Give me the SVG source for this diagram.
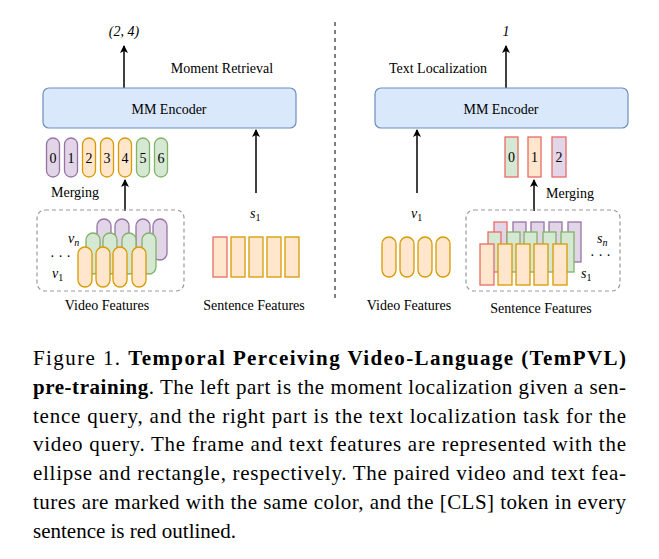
<svg xmlns="http://www.w3.org/2000/svg" width="659" height="559" viewBox="0 0 659 559">
<style>
text{font-family:"Liberation Serif","DejaVu Serif",serif;fill:#000}
.l{font-size:14px}
.c{font-size:21px}
.enc{fill:#dae8fc;stroke:#6c8ebf;stroke-width:1.2}
.p{fill:#e1d5e7;stroke:#9673a6;stroke-width:1.3}
.o{fill:#ffe6cc;stroke:#d79b00;stroke-width:1.3}
.g{fill:#d5e8d4;stroke:#82b366;stroke-width:1.3}
.r{stroke:#ea6b66}
.dash{fill:none;stroke:#999;stroke-dasharray:4 3;stroke-width:1.2}
.ar{stroke:#000;stroke-width:1.5;fill:none;marker-end:url(#ah)}
.i{font-style:italic}
</style>
<defs><marker id="ah" markerWidth="10" markerHeight="10" refX="7" refY="4" orient="auto" markerUnits="userSpaceOnUse"><path d="M0,0 L8,4 L0,8 L2,4 Z" fill="#000"/></marker></defs>
<rect width="659" height="559" fill="#fff"/>
<g id="connectors">
<line class="ar" x1="124" y1="88" x2="124" y2="46"/>
<line class="ar" x1="125" y1="211" x2="125" y2="180"/>
<line class="ar" x1="256" y1="193" x2="256" y2="130"/>
<line class="ar" x1="506" y1="88" x2="506" y2="46"/>
<line class="ar" x1="417" y1="193" x2="417" y2="130"/>
<line class="ar" x1="534" y1="211" x2="534" y2="180"/>
<line x1="335" y1="22" x2="335" y2="300" stroke="#000" stroke-dasharray="4 4" stroke-width="1"/>
</g>
<g id="left-encoder"><rect class="enc" x="43" y="88" width="253" height="40" rx="6"/><text class="l" x="169" y="114" text-anchor="middle">MM Encoder</text></g>
<text class="l i" x="124" y="36" text-anchor="middle">(2, 4)</text>
<text class="l" x="222" y="73" text-anchor="middle">Moment Retrieval</text>
<g id="left-tokens" class="l">
<rect class="p" x="46.5" y="138" width="13" height="39" rx="6.5"/><text x="53" y="163" text-anchor="middle">0</text>
<rect class="p" x="64.5" y="138" width="13" height="39" rx="6.5"/><text x="71" y="163" text-anchor="middle">1</text>
<rect class="o" x="82.5" y="138" width="13" height="39" rx="6.5"/><text x="89" y="163" text-anchor="middle">2</text>
<rect class="o" x="100.5" y="138" width="13" height="39" rx="6.5"/><text x="107" y="163" text-anchor="middle">3</text>
<rect class="o" x="118.5" y="138" width="13" height="39" rx="6.5"/><text x="125" y="163" text-anchor="middle">4</text>
<rect class="g" x="136.5" y="138" width="13" height="39" rx="6.5"/><text x="143" y="163" text-anchor="middle">5</text>
<rect class="g" x="154.5" y="138" width="13" height="39" rx="6.5"/><text x="161" y="163" text-anchor="middle">6</text>
</g>
<text class="l" x="51" y="197">Merging</text>
<g id="left-video">
<rect class="dash" x="37" y="210" width="147" height="81" rx="8"/>
<rect class="p" x="97" y="219" width="14" height="41" rx="7"/><rect class="p" x="115" y="219" width="14" height="41" rx="7"/><rect class="p" x="136" y="219" width="14" height="41" rx="7"/><rect class="p" x="153" y="219" width="14" height="41" rx="7"/>
<rect class="g" x="86" y="233" width="14" height="41" rx="7"/><rect class="g" x="103" y="233" width="14" height="41" rx="7"/><rect class="g" x="122" y="233" width="14" height="41" rx="7"/><rect class="g" x="142" y="233" width="14" height="41" rx="7"/>
<rect class="o" x="78" y="247" width="14" height="40" rx="7"/><rect class="o" x="96" y="247" width="14" height="40" rx="7"/><rect class="o" x="113" y="247" width="14" height="40" rx="7"/><rect class="o" x="132" y="247" width="14" height="40" rx="7"/>
<text class="l i" x="68" y="243">v<tspan font-size="10" dy="3">n</tspan></text>
<text class="l" x="50" y="261">· · ·</text>
<text class="l i" x="52" y="278">v<tspan font-size="10" dy="3" font-style="normal">1</tspan></text>
<text class="l" x="107" y="310" text-anchor="middle">Video Features</text>
</g>
<g id="left-sentence">
<text class="l i" x="250" y="218">s<tspan font-size="10" dy="3" font-style="normal">1</tspan></text>
<rect class="o r" x="213" y="237" width="14" height="40"/><rect class="o" x="231" y="237" width="14" height="40"/><rect class="o" x="249" y="237" width="14" height="40"/><rect class="o" x="267" y="237" width="14" height="40"/><rect class="o" x="285" y="237" width="14" height="40"/>
<text class="l" x="254" y="310" text-anchor="middle">Sentence Features</text>
</g>
<g id="right-encoder"><rect class="enc" x="375" y="88" width="253" height="40" rx="6"/><text class="l" x="501" y="114" text-anchor="middle">MM Encoder</text></g>
<text class="l i" x="506" y="36" text-anchor="middle">1</text>
<text class="l" x="438" y="73" text-anchor="middle">Text Localization</text>
<g id="right-tokens" class="l">
<rect class="g r" x="505" y="137" width="13" height="40"/><text x="511.5" y="162" text-anchor="middle">0</text>
<rect class="o r" x="528" y="137" width="13" height="40"/><text x="534.5" y="162" text-anchor="middle">1</text>
<rect class="p r" x="552" y="137" width="14" height="40"/><text x="559" y="162" text-anchor="middle">2</text>
</g>
<text class="l" x="546" y="198">Merging</text>
<g id="right-video">
<text class="l i" x="411" y="218">v<tspan font-size="10" dy="3" font-style="normal">1</tspan></text>
<rect class="o" x="382" y="237" width="14" height="40" rx="7"/><rect class="o" x="400" y="237" width="14" height="40" rx="7"/><rect class="o" x="418" y="237" width="14" height="40" rx="7"/><rect class="o" x="436" y="237" width="14" height="40" rx="7"/>
<text class="l" x="409" y="310" text-anchor="middle">Video Features</text>
</g>
<g id="right-sentence">
<rect class="dash" x="466" y="210" width="154" height="81" rx="8"/>
<rect class="p r" x="494" y="222" width="13" height="40"/><rect class="p" x="513" y="222" width="13" height="40"/><rect class="p" x="531" y="222" width="13" height="40"/><rect class="p" x="549" y="222" width="13" height="40"/><rect class="p" x="568" y="222" width="13" height="40"/>
<rect class="g r" x="488" y="232" width="13" height="40"/><rect class="g" x="507" y="232" width="13" height="40"/><rect class="g" x="524" y="232" width="13" height="40"/><rect class="g" x="543" y="232" width="13" height="40"/><rect class="g" x="561" y="232" width="13" height="40"/>
<rect class="o r" x="480" y="244" width="14" height="41"/><rect class="o" x="498" y="244" width="14" height="41"/><rect class="o" x="516" y="244" width="14" height="41"/><rect class="o" x="534" y="244" width="14" height="41"/><rect class="o" x="553" y="244" width="14" height="41"/>
<text class="l i" x="597" y="243">s<tspan font-size="10" dy="3">n</tspan></text>
<text class="l" x="590" y="260">· · ·</text>
<text class="l i" x="581" y="278">s<tspan font-size="10" dy="3" font-style="normal">1</tspan></text>
<text class="l" x="541" y="313" text-anchor="middle">Sentence Features</text>
</g>
<g id="caption" class="c">
<text x="33" y="365" textLength="593" lengthAdjust="spacing">Figure 1.  <tspan font-weight="bold">Temporal Perceiving Video-Language (TemPVL)</tspan></text>
<text x="33" y="394" textLength="593" lengthAdjust="spacing"><tspan font-weight="bold">pre-training</tspan>. The left part is the moment localization given a sen-</text>
<text x="33" y="423" textLength="593" lengthAdjust="spacing">tence query, and the right part is the text localization task for the</text>
<text x="33" y="451" textLength="593" lengthAdjust="spacing">video query. The frame and text features are represented with the</text>
<text x="33" y="480" textLength="593" lengthAdjust="spacing">ellipse and rectangle, respectively. The paired video and text fea-</text>
<text x="33" y="509" textLength="593" lengthAdjust="spacing">tures are marked with the same color, and the [CLS] token in every</text>
<text x="33" y="538">sentence is red outlined.</text>
</g>
</svg>
